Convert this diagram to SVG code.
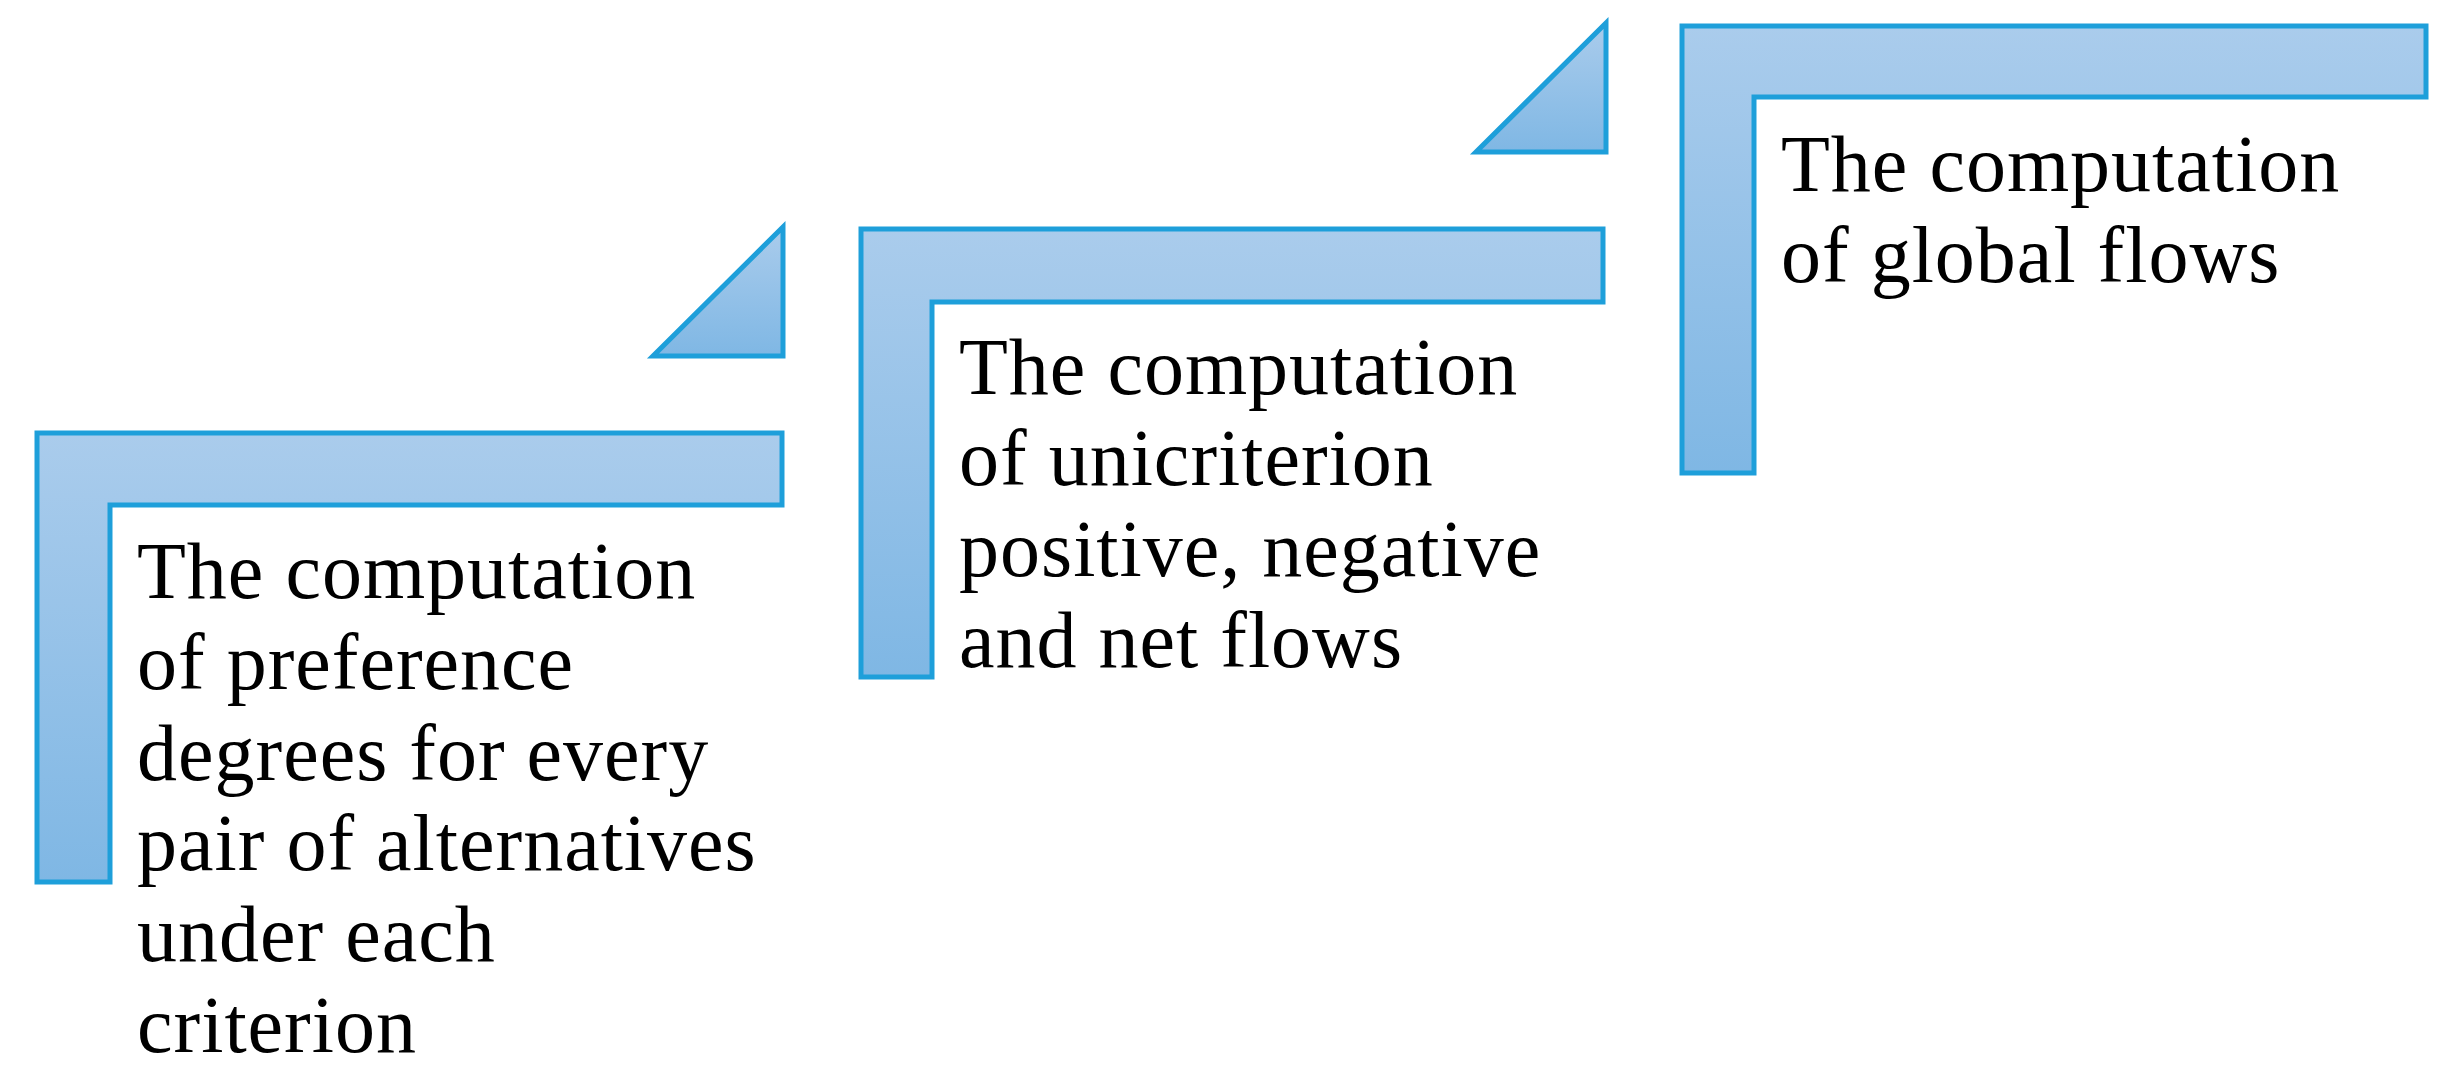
<svg xmlns="http://www.w3.org/2000/svg" width="2453" height="1083" viewBox="0 0 2453 1083">
<defs>
<linearGradient id="g" x1="0" y1="0" x2="0" y2="1">
<stop offset="0" stop-color="#AACCEC"/>
<stop offset="1" stop-color="#7FB7E4"/>
</linearGradient>
</defs>
<style>
.shape{fill:url(#g);stroke:#1E9FDA;stroke-width:5;stroke-linejoin:miter}
.lbl{font-family:"Liberation Serif","Times New Roman",serif;font-size:80px;fill:#000;letter-spacing:1px}
</style>
<rect width="2453" height="1083" fill="#fff"/>
<g id="connectors">
<path class="shape" d="M783,227 V356 H653 Z"/>
<path class="shape" d="M1606,23 V152 H1476 Z"/>
</g>
<g id="step1">
<path class="shape" d="M37,433 H782 V505 H110 V882 H37 Z"/>
<text class="lbl" x="137" y="598">The computation</text>
<text class="lbl" x="137" y="689">of preference</text>
<text class="lbl" x="137" y="780">degrees for every</text>
<text class="lbl" x="137" y="870">pair of alternatives</text>
<text class="lbl" x="137" y="961">under each</text>
<text class="lbl" x="137" y="1052">criterion</text>
</g>
<g id="step2">
<path class="shape" d="M861,229 H1603 V302 H932 V677 H861 Z"/>
<text class="lbl" x="959" y="394">The computation</text>
<text class="lbl" x="959" y="485">of unicriterion</text>
<text class="lbl" x="959" y="576">positive, negative</text>
<text class="lbl" x="959" y="667">and net flows</text>
</g>
<g id="step3">
<path class="shape" d="M1682,26 H2426 V97 H1754 V473 H1682 Z"/>
<text class="lbl" x="1781" y="191">The computation</text>
<text class="lbl" x="1781" y="282">of global flows</text>
</g>
</svg>
